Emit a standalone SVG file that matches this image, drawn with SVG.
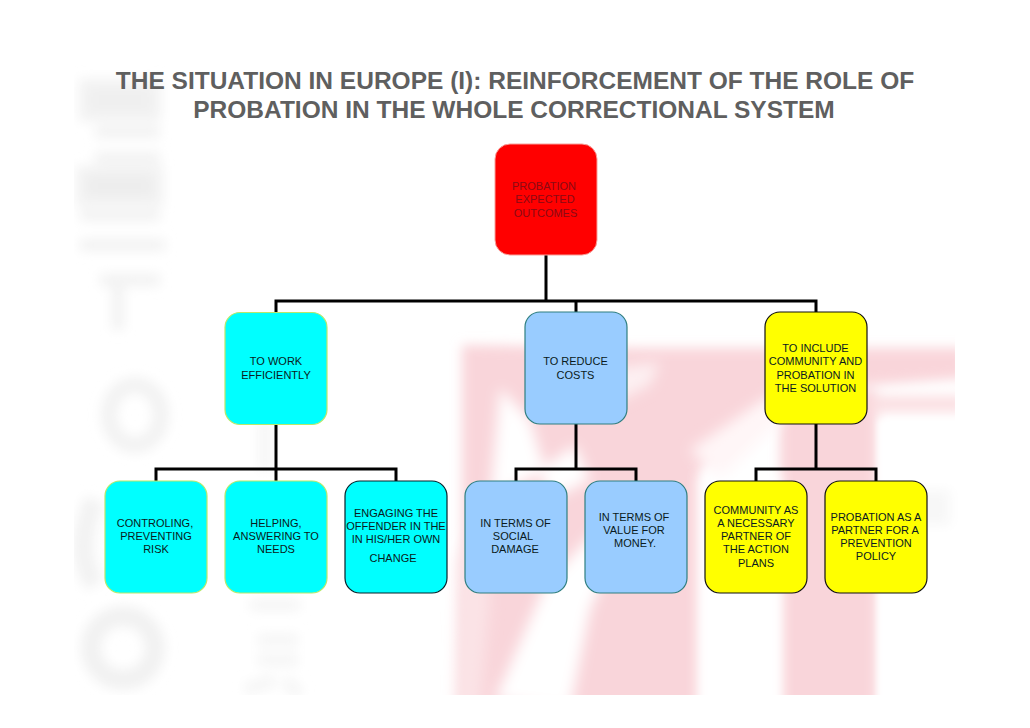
<svg xmlns="http://www.w3.org/2000/svg" width="1030" height="728" viewBox="0 0 1030 728">
<style>
.n{stroke-width:1.2}
.t{font-family:"Liberation Sans",Arial,sans-serif;font-size:11px;fill:#0a1a20;text-anchor:middle}
.c{fill:#0ff}.b{fill:#99ccff;stroke:#2f7f80}.y{fill:#ff0;stroke:#111}
.title{font-family:"Liberation Sans",Arial,sans-serif;font-size:24.500px;font-weight:bold;fill:#5f5f5f;text-anchor:middle}
.l{fill:none;stroke:#000;stroke-width:3}
</style>
<defs>
<filter id="bl" x="-20%" y="-20%" width="140%" height="140%"><feGaussianBlur stdDeviation="6"/></filter>
<filter id="bw" x="-30%" y="-30%" width="160%" height="160%"><feGaussianBlur stdDeviation="7"/></filter>
<filter id="bs" x="-30%" y="-10%" width="160%" height="120%"><feGaussianBlur stdDeviation="3"/></filter>
<clipPath id="pc"><rect x="440" y="330" width="515" height="365"/></clipPath>
<clipPath id="gc"><rect x="74" y="60" width="300" height="635"/></clipPath>
</defs>
<rect width="1030" height="728" fill="#fff"/>
<g id="watermark">
<g clip-path="url(#pc)">
<g filter="url(#bl)" fill="#f9d5da">
<path d="M462 345L640 348L965 348V378L870 385L780 400L700 470V710H462Z"/>
<rect x="780" y="390" width="97" height="320"/>
<rect x="870" y="396" width="95" height="16" fill="#fbdfe2"/>
</g>
<g filter="url(#bw)" fill="#fff">
<path d="M500 388L530 420L545 470L490 500Z"/>
<path d="M495 700L545 585L610 515L622 535L590 610L570 710Z" fill="#fff"/>
<path d="M565 375L660 362L650 385L590 415Z" fill="#fdf0f2"/>
<path d="M540 470L575 445L590 480L550 500Z"/>
<path d="M690 450L770 395L790 410L720 480Z" fill="#fff6f7"/>
<path d="M700 475H780V710H700Z"/>
<path d="M458 560L478 520L490 600L480 710H455Z" fill="#fbe3e6"/>
</g>
<rect x="878" y="420" width="90" height="290" fill="#fff" filter="url(#bs)"/>
</g>
<g clip-path="url(#gc)" filter="url(#bl)" fill="none" stroke="#f2f2f2" stroke-width="12">
<rect x="85" y="85" width="70" height="30" fill="#efefef"/>
<path d="M95 132H160M95 158H160"/>
<rect x="82" y="172" width="75" height="28" fill="#ececec"/>
<path d="M80 215H160M80 245H165"/>
<path d="M100 280H160M118 280V330"/>
<ellipse cx="135" cy="415" rx="26" ry="30" stroke-width="16"/>
<path d="M265 420V470" stroke-width="14" stroke="#f6f6f6"/>
<path d="M95 500Q72 550 95 585" stroke-width="20"/>
<ellipse cx="123" cy="648" rx="32" ry="32" stroke-width="20" stroke="#f1f1f1"/>
<path d="M250 605H300M258 640H298M258 660H298M245 690L275 680M285 680L300 695" stroke="#f5f5f5"/>
</g>
<rect x="905" y="490" width="45" height="35" fill="#f7f7f7" filter="url(#bl)"/>
</g>
<text class="title" x="515" y="89">THE SITUATION IN EUROPE (I): REINFORCEMENT OF THE ROLE OF</text>
<text class="title" x="514" y="118">PROBATION IN THE WHOLE CORRECTIONAL SYSTEM</text>
<g id="connectors" class="l">
<path class="l" d="M546 255V301M276 312V301H816V312M576 301V312"/>
<path class="l" d="M276 424V469M156 481V469H396V481M276 469V481"/>
<path class="l" d="M576 424V469M516 481V469H636V481"/>
<path class="l" d="M816 424V469M756 481V469H876V481"/>
</g>
<g id="root"><rect x="495" y="144" width="102" height="111" rx="15" fill="#f00" stroke="#f7a09a" stroke-width="1"/><g class="t" style="fill:#8a0a14"><text x="544" y="190">PROBATION</text><text x="545" y="203">EXPECTED</text><text x="545.500" y="217">OUTCOMES</text></g></g>
<g id="n-work"><rect class="n c" x="225" y="312.500" width="102" height="112" rx="15" stroke="#b8e86a"/><text class="t" x="276" y="365">TO WORK</text><text class="t" x="276" y="379">EFFICIENTLY</text></g>
<g id="n-costs"><rect class="n b" x="525" y="312" width="102" height="112" rx="15"/><text class="t" x="575.500" y="365">TO REDUCE</text><text class="t" x="575.500" y="379">COSTS</text></g>
<g id="n-community"><rect class="n y" x="765" y="312" width="102" height="112" rx="15"/><text class="t" x="815.500" y="352">TO INCLUDE</text><text class="t" x="815.500" y="365">COMMUNITY AND</text><text class="t" x="815.500" y="379">PROBATION IN</text><text class="t" x="815.500" y="392">THE SOLUTION</text></g>
<g id="n-control"><rect class="n c" x="105" y="481" width="102" height="112" rx="15" stroke="#b8e86a"/><text class="t" x="155" y="527">CONTROLING,</text><text class="t" x="156" y="540">PREVENTING</text><text class="t" x="156" y="553">RISK</text></g>
<g id="n-help"><rect class="n c" x="225" y="481" width="102" height="112" rx="15" stroke="#b8e86a"/><text class="t" x="276" y="527">HELPING,</text><text class="t" x="276" y="540">ANSWERING TO</text><text class="t" x="276" y="553">NEEDS</text></g>
<g id="n-engage"><rect class="n c" x="345" y="481" width="102" height="112" rx="15" stroke="#06222a"/><text class="t" x="396" y="517">ENGAGING THE</text><text class="t" x="396" y="530">OFFENDER IN THE</text><text class="t" x="396" y="543">IN HIS/HER OWN</text><text class="t" x="393" y="562">CHANGE</text></g>
<g id="n-social"><rect class="n b" x="465" y="481" width="102" height="112" rx="15"/><text class="t" x="515.500" y="527">IN TERMS OF</text><text class="t" x="513" y="540">SOCIAL</text><text class="t" x="515" y="553">DAMAGE</text></g>
<g id="n-value"><rect class="n b" x="585" y="481" width="102" height="112" rx="15"/><text class="t" x="634" y="521">IN TERMS OF</text><text class="t" x="634" y="534">VALUE FOR</text><text class="t" x="635" y="547">MONEY.</text></g>
<g id="n-partner"><rect class="n y" x="705" y="481" width="102" height="112" rx="15"/><text class="t" x="756" y="514">COMMUNITY AS</text><text class="t" x="756" y="527">A NECESSARY</text><text class="t" x="756" y="540">PARTNER OF</text><text class="t" x="756" y="553">THE ACTION</text><text class="t" x="756" y="567">PLANS</text></g>
<g id="n-policy"><rect class="n y" x="825" y="481" width="102" height="112" rx="15"/><text class="t" x="876" y="521">PROBATION AS A</text><text class="t" x="875" y="534">PARTNER FOR A</text><text class="t" x="876" y="547">PREVENTION</text><text class="t" x="876" y="560">POLICY</text></g>
</svg>
